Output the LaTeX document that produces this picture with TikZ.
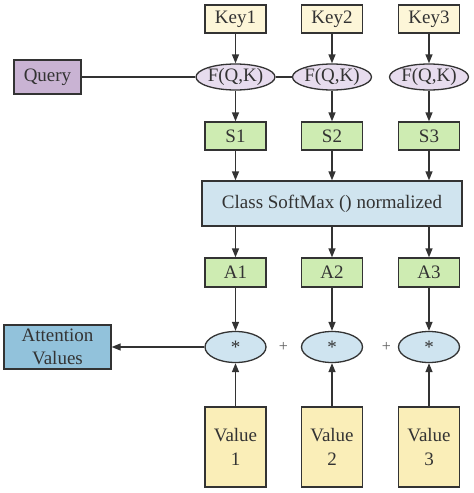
\documentclass[tikz,border=0pt]{standalone}
\usepackage{fontspec}
\setmainfont{Liberation Serif}
\usetikzlibrary{arrows.meta,shapes.geometric}

\definecolor{keyfill}{HTML}{FDF6D8}
\definecolor{queryfill}{HTML}{C9B3D3}
\definecolor{ffill}{HTML}{E7DCEE}
\definecolor{greenfill}{HTML}{CEECB2}
\definecolor{softfill}{HTML}{D0E4EF}
\definecolor{attfill}{HTML}{92C2DB}
\definecolor{starfill}{HTML}{CFE4F0}
\definecolor{valfill}{HTML}{FAEEB8}
\definecolor{edge}{HTML}{333333}

\tikzset{
  box/.style={draw=edge, line width=1.3pt, minimum width=61pt, minimum height=28pt,
    inner sep=0pt, text=edge, font=\fontsize{19}{23.5}\selectfont, align=center},
  oval/.style={box, ellipse},
  arr/.style={-{Triangle[length=9pt,width=7pt]}, line width=1.3pt, draw=edge},
  ln/.style={line width=1.3pt, draw=edge}
}

\begin{document}
\begin{tikzpicture}[x=1pt,y=-1pt]
        \useasboundingbox (0,0) rectangle (474,493);

        % query and the result
        \node[box, fill=queryfill, minimum width=67pt, minimum height=34pt] (query) at (47.5,77) {Query};
        \node[box, fill=attfill, minimum width=107pt, minimum height=44pt] (att) at (57.5,347) {Attention\\Values};

        % softmax
        \node[box, fill=softfill, minimum width=260pt, minimum height=45pt] (soft) at (332,203.5) {Class SoftMax () normalized};

        % columns
        \foreach \i/\x in {1/235.5, 2/332, 3/429} {
          \node[box, fill=keyfill] (key\i) at (\x,19) {Key\i};
          \node[oval, fill=ffill, minimum width=79pt, minimum height=26pt] (f\i) at (\x,77) {F(Q,K)};
          \node[box, fill=greenfill] (s\i) at (\x,136) {S\i};
          \node[box, fill=greenfill, minimum height=29pt] (a\i) at (\x,272.5) {A\i};
          \node[oval, fill=starfill, minimum width=61pt, minimum height=31pt] (m\i) at (\x,347) {*};
          \node[box, fill=valfill, minimum height=80pt] (v\i) at (\x,447) {Value\\\i};
          \draw[arr] (key\i) -- (f\i);
          \draw[arr] (f\i) -- (s\i);
          \draw[arr] (s\i) -- (s\i |- soft.north);
          \draw[arr] (soft.south -| a\i) -- (a\i);
          \draw[arr] (a\i) -- (m\i);
          \draw[arr] (v\i) -- (m\i);
        }

        % plus signs
        \node[text=edge!80, font=\fontsize{16}{18}\selectfont] (p1) at (283.5,347) {+};
        \node[text=edge!80, font=\fontsize{16}{18}\selectfont] (p2) at (386.5,347) {+};

        \draw[ln] (query) -- (f1);
        \draw[ln] (f1) -- (f2);
        \draw[arr] (m1) -- (att);
    \end{tikzpicture}
\end{document}
